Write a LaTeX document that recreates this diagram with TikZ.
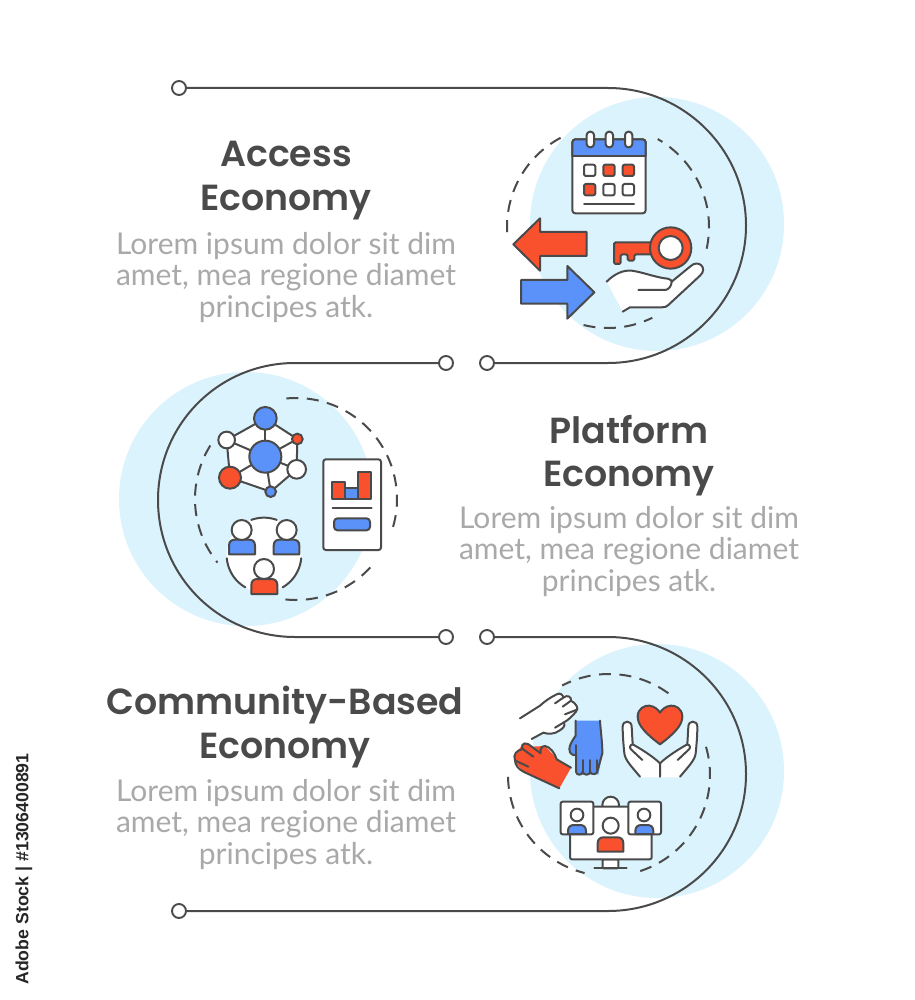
\documentclass[tikz,border=0pt]{standalone}
\usepackage{fontspec}
\setmainfont{Lato}
\newfontfamily\headfont{Poppins}[BoldFont={Poppins SemiBold}]
\newfontfamily\stockfont{Liberation Sans}
\definecolor{ink}{HTML}{4A4A4A}
\definecolor{ired}{HTML}{F9502E}
\definecolor{iblue}{HTML}{5A92FA}
\definecolor{disc}{HTML}{DBF3FC}
\definecolor{greytext}{HTML}{A9A9A9}
\tikzset{
  spine/.style={draw=ink,line width=2pt},
  terminal/.style={circle,draw=ink,fill=white,line width=1.9pt,minimum size=14pt,inner sep=0pt,outer sep=0pt},
  disco/.style={fill=disc},
  dashring/.style={draw=ink,line width=2pt,dash pattern=on 12pt off 8.5pt},
  ic/.style={draw=ink,line width=2pt,line join=round,line cap=round},
  heading/.style={font=\headfont\bfseries\fontsize{36.3}{43.5}\selectfont,text=ink,align=center,inner sep=0pt},
  body/.style={font=\fontsize{30}{31.5}\selectfont,text=greytext,align=center,inner sep=0pt},
  netnode/.style={circle,draw=ink,line width=2pt,inner sep=0pt,outer sep=0pt},
  icz/.style={shift={#1},scale=1/3}
}
\newcommand{\dashedarc}[5]{\draw[dashring] plot[domain=#4:#5,samples=50,smooth] ({#1+#3*cos(\x)},{#2-#3*sin(\x)});}
\newcommand{\bodyshape}[5]{% left,right,top,bottom,colour
  \draw[ic,fill=#5] (#1,#4) -- (#1,{#3+18}) .. controls (#1,{#3+5}) and ({#1+8},#3) .. ({#1+18},#3) -- ({#2-18},#3) .. controls ({#2-8},#3) and (#2,{#3+5}) .. (#2,{#3+18}) -- (#2,#4) -- cycle;
}
\newcommand{\heartHand}{%
  \fill[white] (450,337) -- (405,275) -- (398,185) -- (412,170) -- (425,180) -- (428,238) -- (510,295) -- (510,337) -- cycle;
  \draw[ic] (450,335) .. controls (425,305) and (405,285) .. (403,265) .. controls (400,235) and (398,210) .. (398,185) .. controls (398,165) and (425,165) .. (425,185) -- (428,238) .. controls (450,250) and (490,275) .. (510,295) -- (510,335);
  \draw[ic] (428,238) .. controls (418,240) and (418,250) .. (425,255) -- (457,285);
}
\begin{document}
\begin{tikzpicture}[x=1pt,y=-1pt]
\useasboundingbox (0,0) rectangle (914,1000);
\fill[white] (0,0) rectangle (914,1000);

% discs
\fill[disco] (657,224) circle[radius=127];
\fill[disco] (246,499) circle[radius=127];
\fill[disco] (657,771) circle[radius=127];

% terminals
\node[terminal] (t1) at (179,88) {};
\node[terminal] (t2) at (487,363) {};
\node[terminal] (t3) at (446,363) {};
\node[terminal] (t4) at (446,637) {};
\node[terminal] (t5) at (487,637) {};
\node[terminal] (t6) at (179,911) {};

% spine
\draw[spine] (t1.east) -- (608,88) .. controls (684,88) and (746,150) .. (746,225.5) .. controls (746,301) and (684,363) .. (608,363) -- (t2.east);
\draw[spine] (t3.west) -- (295,363) .. controls (219,363) and (158,424) .. (158,500) .. controls (158,576) and (219,637) .. (295,637) -- (t4.west);
\draw[spine] (t5.east) -- (608,637) .. controls (684,637) and (746,698) .. (746,774) .. controls (746,850) and (684,911) .. (608,911) -- (t6.east);

% dashed rings
\dashedarc{608}{227}{101}{118}{184}
\dashedarc{608}{227}{101}{256}{296}
\dashedarc{608}{227}{101}{-12.4}{60.5}
\dashedarc{296}{499}{101}{-16}{99}
\dashedarc{296}{499}{101}{148}{219}
\dashedarc{296}{499}{101}{264}{321}
\dashedarc{609}{775}{101}{54}{117.6}
\dashedarc{609}{775}{101}{181}{256}
\dashedarc{609}{775}{101}{288}{377}

% texts
\node[heading] (h1) at (286,180.5) {Access\\Economy};
\node[body] (b1) at (286,277.5) {Lorem ipsum dolor sit dim\\amet, mea regione diamet\\principes atk.};
\node[heading] (h2) at (629,455.5) {Platform\\Economy};
\node[body] (b2) at (629,551.5) {Lorem ipsum dolor sit dim\\amet, mea regione diamet\\principes atk.};
\node[heading] (h3) at (285,727) {Community-Based\\Economy};
\node[body] (b3) at (286,824.5) {Lorem ipsum dolor sit dim\\amet, mea regione diamet\\principes atk.};
\node[font=\stockfont\bfseries\fontsize{17.7}{20}\selectfont,text=black!85,rotate=90,inner sep=0pt] (stock) at (24,869) {Adobe Stock | \#1306400891};

% ---------- icon 1 : calendar, arrows, key, hand
\begin{scope}[icz={(490,110)}]
  \draw[ic,fill=white,rounded corners=3pt] (247,88) rectangle (467,310);
  \fill[iblue,rounded corners=3pt] (248,89) rectangle (466,120);
  \fill[iblue] (248,110) rectangle (466,138);
  \draw[ic] (247,138) -- (467,138);
  \draw[ic,rounded corners=3pt] (247,138) -- (247,88) -- (467,88) -- (467,138);
  \foreach \x in {301,358,416}
    \draw[ic,fill=white,rounded corners=3.4pt] (\x-11,65) rectangle (\x+11,112);
  \foreach \x/\y/\c in {282/164/white,340/164/ired,398/164/ired,282/222/ired,340/222/white,398/222/white}
    \draw[ic,fill=\c,rounded corners=2pt] (\x,\y) rectangle (\x+34,\y+34);
  \draw[ic] (282,281) -- (432,281);
  % arrows
  \draw[ic,fill=ired] (70,403) -- (150,325) -- (150,366) -- (290,366) -- (290,438) -- (150,438) -- (150,482) -- cycle;
  \draw[ic,fill=iblue] (93,510) -- (232,510) -- (232,468) -- (313,547) -- (232,626) -- (232,581) -- (93,581) -- cycle;
  % key
  \draw[ic,fill=ired,rounded corners=1.5pt] (372,397) -- (372,462) -- (392,462) -- (392,433) -- (413,433) -- (413,452) -- (433,452) -- (433,433) -- (500,433) -- (500,397) -- cycle;
  \fill[ired] (485,399) rectangle (505,431);
  \draw[ic,fill=ired] (542,414) circle[radius=62];
  \draw[ic,fill=white] (542,414) circle[radius=36];
  % hand
  \fill[white] (350,515) .. controls (375,490) and (400,480) .. (425,482) .. controls (460,487) and (490,500) .. (525,505) .. controls (535,505) and (545,510) .. (545,515) -- (600,470) .. controls (625,445) and (655,475) .. (630,497) -- (535,585) .. controls (530,590) and (525,592) .. (515,592) -- (420,592) -- (398,605) -- cycle;
  \draw[ic] (350,515) .. controls (375,490) and (400,480) .. (425,482) .. controls (460,487) and (490,500) .. (525,505) .. controls (535,505) and (545,510) .. (545,515) -- (600,470) .. controls (625,445) and (655,475) .. (630,497) -- (535,585) .. controls (530,590) and (525,592) .. (515,592) -- (420,592) -- (398,605);
  \draw[ic] (445,540) -- (525,540) .. controls (535,540) and (545,528) .. (545,515);
\end{scope}

% ---------- icon 2 : network, document, people
\begin{scope}[icz={(180,385)}]
  \coordinate (pa) at (256,100);
  \coordinate (pb) at (352,162);
  \coordinate (pc) at (350,253);
  \coordinate (pd) at (272,320);
  \coordinate (pe) at (150,278);
  \coordinate (pf) at (140,165);
  \coordinate (pg) at (256,215);
  \draw[ic,fill=white] (pa) -- (pb) -- (pc) -- (pd) -- (pe) -- (pf) -- cycle;
  \foreach \p in {pa,pb,pc,pd,pe,pf} \draw[ic] (pg) -- (\p);
  \node[netnode,fill=iblue,minimum size=22.7pt] (na) at (pa) {};
  \node[netnode,fill=ired,minimum size=10.7pt] (nb) at (pb) {};
  \node[netnode,fill=white,minimum size=18.7pt] (nc) at (pc) {};
  \node[netnode,fill=iblue,minimum size=10.7pt] (nd) at (pd) {};
  \node[netnode,fill=ired,minimum size=22pt] (ne) at (pe) {};
  \node[netnode,fill=white,minimum size=16.7pt] (nf) at (pf) {};
  \node[netnode,fill=iblue,minimum size=32pt] (ng) at (pg) {};
  % document
  \draw[ic,fill=white,rounded corners=2.5pt] (430,223) rectangle (603,495);
  \draw[ic,fill=ired] (456,343) rectangle (496,292);
  \draw[ic,fill=iblue] (496,343) rectangle (535,308);
  \draw[ic,fill=ired] (535,343) rectangle (573,260);
  \draw[ic] (458,370) -- (575,370);
  \draw[ic,fill=iblue,rounded corners=3.5pt] (462,400) rectangle (570,436);
  % people
  \fill[white] (252,510) circle[radius=112];
  \draw[ic] plot[domain=70:110,samples=15,smooth] ({252+112*cos(\x)},{510-112*sin(\x)});
  \draw[ic] plot[domain=185:240,samples=15,smooth] ({252+112*cos(\x)},{510-112*sin(\x)});
  \draw[ic] plot[domain=-60:-5,samples=15,smooth] ({252+112*cos(\x)},{510-112*sin(\x)});
  \bodyshape{147}{225}{464}{508}{iblue}
  \draw[ic,fill=white] (185,435) circle[radius=30];
  \bodyshape{281}{358}{464}{508}{iblue}
  \draw[ic,fill=white] (320,435) circle[radius=30];
  \bodyshape{214}{292}{582}{627}{ired}
  \draw[ic,fill=white] (252,552) circle[radius=30];
\end{scope}

% ---------- icon 3 : hands, heart, video call
\begin{scope}[icz={(490,665)}]
  % white hand
  \fill[white] (90,160) -- (150,122) -- (205,85) -- (240,92) -- (263,130) -- (225,175) -- (195,207) -- (160,205) -- (125,222) -- cycle;
  \draw[ic] (90,160) -- (150,122) .. controls (165,108) and (180,98) .. (200,88) .. controls (210,82) and (220,90) .. (220,98) .. controls (232,88) and (245,95) .. (243,107) .. controls (258,115) and (268,130) .. (258,140) .. controls (245,155) and (235,165) .. (222,172) .. controls (228,185) and (215,192) .. (208,197) .. controls (192,208) and (175,208) .. (160,203) -- (125,222);
  \draw[ic] (220,98) -- (195,115);
  \draw[ic] (243,107) -- (218,125);
  \draw[ic] (258,135) -- (225,148);
  \draw[ic] (222,172) -- (195,188);
  % blue hand
  \fill[iblue] (257,167) -- (330,167) -- (337,270) -- (325,328) -- (262,328) -- (258,272) -- (240,262) -- (240,240) -- (257,210) -- cycle;
  \draw[ic] (257,167) -- (257,212) .. controls (248,225) and (238,240) .. (238,252) .. controls (238,268) and (250,272) .. (258,270) -- (258,320) .. controls (258,332) and (278,332) .. (278,320) .. controls (280,332) and (300,332) .. (300,320) .. controls (302,330) and (322,330) .. (322,318) -- (337,265) .. controls (337,230) and (332,200) .. (330,167);
  \draw[ic] (258,270) -- (258,240);
  \draw[ic] (278,320) -- (278,285);
  \draw[ic] (300,320) -- (300,285);
  \draw[ic] (322,318) -- (322,285);
  % red hand
  \fill[ired] (243,308) -- (208,370) -- (100,322) -- (75,290) -- (72,278) -- (100,233) -- (125,245) -- (165,243) -- (200,280) -- cycle;
  \draw[ic] (243,308) -- (200,283) .. controls (195,265) and (180,245) .. (165,243) .. controls (152,242) and (150,258) .. (152,265) -- (125,245) .. controls (112,230) and (90,232) .. (98,252) .. controls (80,255) and (68,270) .. (75,285) .. controls (75,300) and (85,312) .. (100,320) -- (208,370);
  \draw[ic] (98,252) -- (130,275);
  \draw[ic] (76,287) -- (115,305);
  % heart hands
  \heartHand
  \begin{scope}[shift={(1020,0)},xscale=-1]
    \heartHand
  \end{scope}
  \draw[ic,fill=ired] (510,238) .. controls (470,208) and (443,182) .. (443,155) .. controls (443,130) and (465,120) .. (478,122) .. controls (495,124) and (505,135) .. (510,143) .. controls (515,135) and (525,124) .. (542,122) .. controls (555,120) and (577,130) .. (577,155) .. controls (577,182) and (550,208) .. (510,238) -- cycle;
  % video call
  \draw[ic,fill=white] (362,420) circle[radius=25];
  \draw[ic,fill=white,rounded corners=1pt] (338,583) rectangle (385,610);
  \draw[ic] (313,610) -- (410,610);
  \draw[ic,fill=white,rounded corners=2pt] (240,425) rectangle (485,583);
  \draw[ic,fill=white,rounded corners=2pt] (212,410) rectangle (310,508);
  \draw[ic,fill=white,rounded corners=2pt] (415,410) rectangle (513,508);
  \bodyshape{234}{288}{480}{507}{iblue}
  \draw[ic,fill=white] (261,450) circle[radius=19];
  \bodyshape{436}{490}{480}{507}{iblue}
  \draw[ic,fill=white] (462,450) circle[radius=19];
  \bodyshape{323}{400}{517}{560}{ired}
  \draw[ic,fill=white] (362,482) circle[radius=24];
\end{scope}
\end{tikzpicture}
\end{document}
